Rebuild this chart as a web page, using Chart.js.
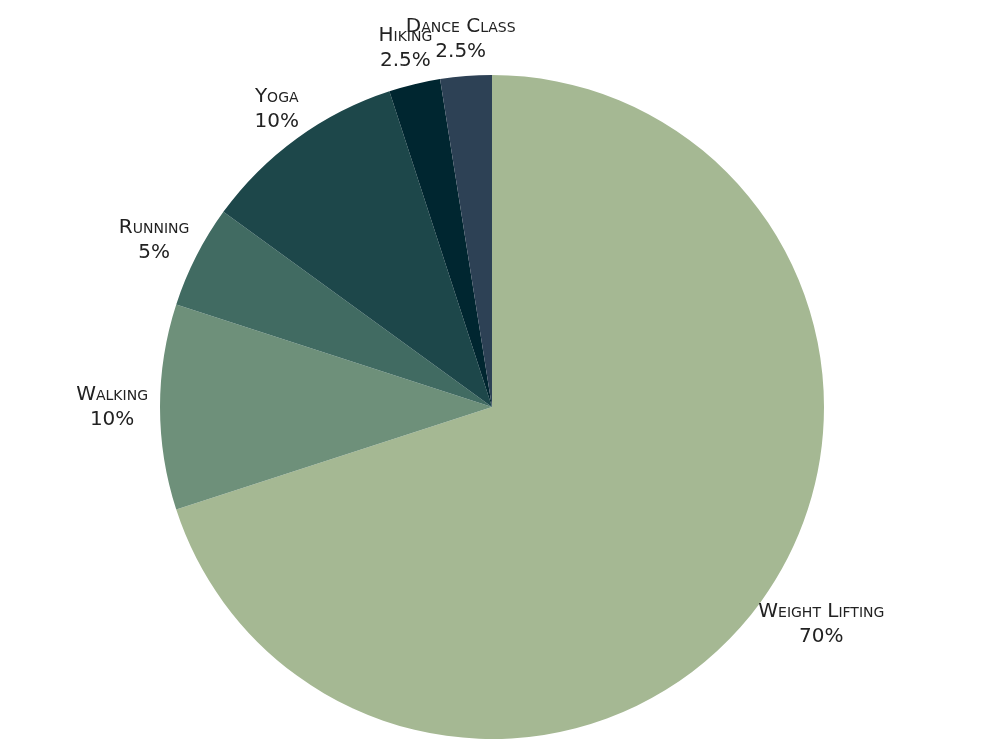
<!DOCTYPE html>
<html>
<head>
<meta charset="utf-8">
<script src="https://cdn.jsdelivr.net/npm/chart.js@4"></script>
<style>
  html, body { margin: 0; padding: 0; background: #fff; }
  #wrap { width: 1000px; height: 750px; }
</style>
</head>
<body>
<div id="wrap"><canvas id="pie"></canvas></div>
<script>
// Activity split
const activities = ['Weight Lifting', 'Walking', 'Running', 'Yoga', 'Hiking', 'Dance Class'];
const shares = [70, 10, 5, 10, 2.5, 2.5];
const sliceColors = ['#a5b893', '#6e907a', '#416b62', '#1d474a', '#002630', '#2d4155'];

// labels drawn outside each slice
const outsideLabels = {
    id: 'outsideLabels',
    afterDraw(chart) {
        const ctx = chart.ctx;
        const meta = chart.getDatasetMeta(0);
        ctx.save();
        ctx.font = 'small-caps 20px "DejaVu Sans"';
        ctx.fillStyle = '#222';
        ctx.textAlign = 'center';
        ctx.textBaseline = 'middle';
        meta.data.forEach((arc, i) => {
            const mid = (arc.startAngle + arc.endAngle) / 2;
            const r = arc.outerRadius + 12;
            const ax = arc.x + Math.cos(mid) * r;
            const ay = arc.y + Math.sin(mid) * r;
            const name = activities[i];
            const pct = shares[i] + '%';
            const w = Math.max(ctx.measureText(name).width, ctx.measureText(pct).width);
            const h = 50;
            const cx = ax + Math.cos(mid) * w / 2;
            const cy = ay + Math.sin(mid) * h / 2;
            ctx.fillText(name, cx, cy - 12);
            ctx.fillText(pct, cx, cy + 13);
        });
        ctx.restore();
    }
};

new Chart(document.getElementById('pie'), {
    type: 'pie',
    data: {
        labels: activities,
        datasets: [{
            data: shares,
            backgroundColor: sliceColors,
            borderWidth: 0
        }]
    },
    options: {
        responsive: true,
        maintainAspectRatio: false,
        animation: false,
        layout: { padding: { top: 75, bottom: 11, left: 0, right: 16 } },
        plugins: {
            legend: { display: false },
            tooltip: { enabled: false }
        }
    },
    plugins: [outsideLabels]
});
</script>
</body>
</html>
